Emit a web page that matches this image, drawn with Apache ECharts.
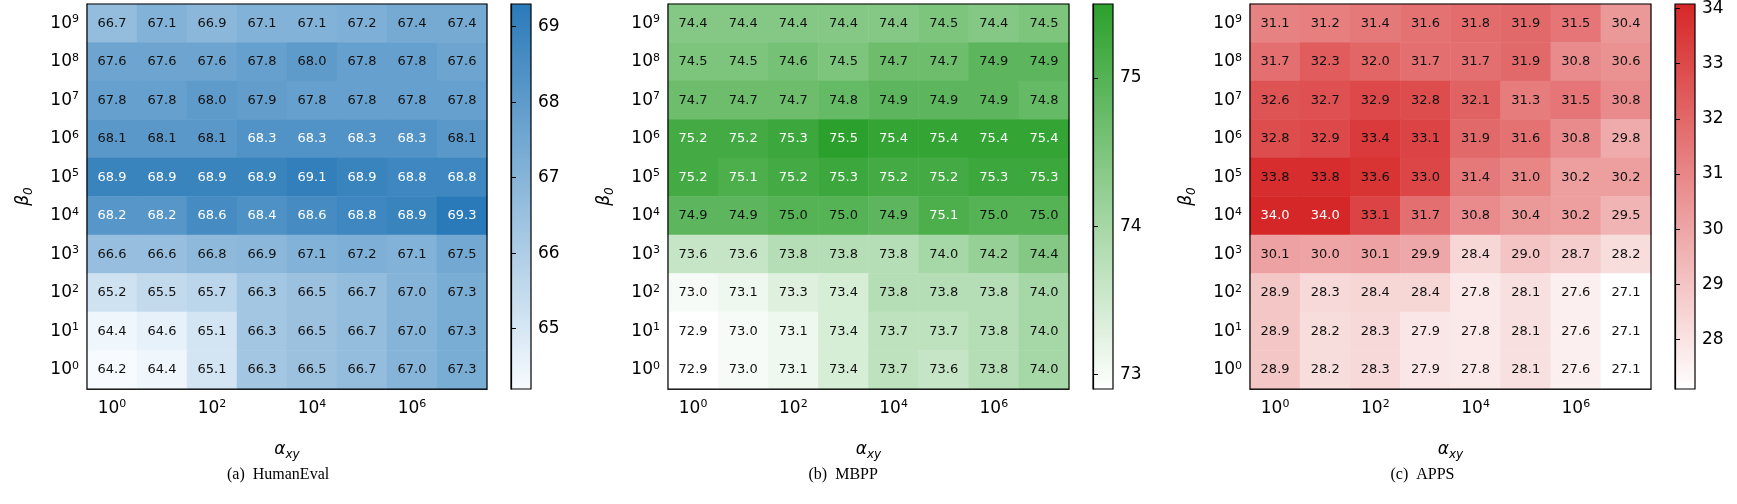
<!DOCTYPE html>
<html>
<head>
<meta charset="utf-8">
<script src="https://cdn.jsdelivr.net/npm/echarts@6/dist/echarts.min.js"></script>
<style>
  body { margin: 0; background: #fff; }
  #main { width: 1737px; height: 504px; }
</style>
</head>
<body>
<div id="main"></div>
<script>
// 横轴 alpha_xy，纵轴 beta_0 (从 10^0 到 10^9)
var xExp = [0, 1, 2, 3, 4, 5, 6, 7];
var yExp = [0, 1, 2, 3, 4, 5, 6, 7, 8, 9];

// 每行从上 (10^9) 到下 (10^0)
var humanEval = [
  [66.7, 67.1, 66.9, 67.1, 67.1, 67.2, 67.4, 67.4],
  [67.6, 67.6, 67.6, 67.8, 68.0, 67.8, 67.8, 67.6],
  [67.8, 67.8, 68.0, 67.9, 67.8, 67.8, 67.8, 67.8],
  [68.1, 68.1, 68.1, 68.3, 68.3, 68.3, 68.3, 68.1],
  [68.9, 68.9, 68.9, 68.9, 69.1, 68.9, 68.8, 68.8],
  [68.2, 68.2, 68.6, 68.4, 68.6, 68.8, 68.9, 69.3],
  [66.6, 66.6, 66.8, 66.9, 67.1, 67.2, 67.1, 67.5],
  [65.2, 65.5, 65.7, 66.3, 66.5, 66.7, 67.0, 67.3],
  [64.4, 64.6, 65.1, 66.3, 66.5, 66.7, 67.0, 67.3],
  [64.2, 64.4, 65.1, 66.3, 66.5, 66.7, 67.0, 67.3]
];
var mbpp = [
  [74.4, 74.4, 74.4, 74.4, 74.4, 74.5, 74.4, 74.5],
  [74.5, 74.5, 74.6, 74.5, 74.7, 74.7, 74.9, 74.9],
  [74.7, 74.7, 74.7, 74.8, 74.9, 74.9, 74.9, 74.8],
  [75.2, 75.2, 75.3, 75.5, 75.4, 75.4, 75.4, 75.4],
  [75.2, 75.1, 75.2, 75.3, 75.2, 75.2, 75.3, 75.3],
  [74.9, 74.9, 75.0, 75.0, 74.9, 75.1, 75.0, 75.0],
  [73.6, 73.6, 73.8, 73.8, 73.8, 74.0, 74.2, 74.4],
  [73.0, 73.1, 73.3, 73.4, 73.8, 73.8, 73.8, 74.0],
  [72.9, 73.0, 73.1, 73.4, 73.7, 73.7, 73.8, 74.0],
  [72.9, 73.0, 73.1, 73.4, 73.7, 73.6, 73.8, 74.0]
];
var apps = [
  [31.1, 31.2, 31.4, 31.6, 31.8, 31.9, 31.5, 30.4],
  [31.7, 32.3, 32.0, 31.7, 31.7, 31.9, 30.8, 30.6],
  [32.6, 32.7, 32.9, 32.8, 32.1, 31.3, 31.5, 30.8],
  [32.8, 32.9, 33.4, 33.1, 31.9, 31.6, 30.8, 29.8],
  [33.8, 33.8, 33.6, 33.0, 31.4, 31.0, 30.2, 30.2],
  [34.0, 34.0, 33.1, 31.7, 30.8, 30.4, 30.2, 29.5],
  [30.1, 30.0, 30.1, 29.9, 28.4, 29.0, 28.7, 28.2],
  [28.9, 28.3, 28.4, 28.4, 27.8, 28.1, 27.6, 27.1],
  [28.9, 28.2, 28.3, 27.9, 27.8, 28.1, 27.6, 27.1],
  [28.9, 28.2, 28.3, 27.9, 27.8, 28.1, 27.6, 27.1]
];
var blueTicks = [65, 66, 67, 68, 69];
var greenTicks = [73, 74, 75];
var redTicks = [28, 29, 30, 31, 32, 33, 34];
var titles = ['(a)  HumanEval', '(b)  MBPP', '(c)  APPS'];

var panels = [
  { data: humanEval, ticks: blueTicks, colors: ['#f7fbff', '#2a7ab9'], white: 68.15, left: 87, right: 487, cb: 511, cbw: 20 },
  { data: mbpp, ticks: greenTicks, colors: ['#ffffff', '#2ca02c'], white: 75.05, left: 668, right: 1069, cb: 1093, cbw: 20 },
  { data: apps, ticks: redTicks, colors: ['#ffffff', '#d62728'], white: 33.95, left: 1250, right: 1651, cb: 1675, cbw: 20 }
];
var gTop = 4, gBottom = 389;

function expLabel(v) { return '10{s|' + v + '}'; }
var rich = { s: { fontSize: 11, verticalAlign: 'top', padding: [0, 0, 8, 0], fontFamily: 'DejaVu Sans', color: '#000' } };

var chart = echarts.init(document.getElementById('main'));
var grid = [], xAxis = [], yAxis = [], series = [], visualMap = [], graphic = [];

panels.forEach(function (p, k) {
  var flat = [], mn = Infinity, mx = -Infinity;
  p.data.forEach(function (row, r) {
    row.forEach(function (v, c) {
      var yi = yExp.length - 1 - r;
      flat.push({ value: [c, yi, v], label: { color: v >= p.white ? '#fff' : '#111' } });
      mn = Math.min(mn, v); mx = Math.max(mx, v);
    });
  });
  var h = gBottom - gTop;
  grid.push({ left: p.left, width: p.right - p.left, top: gTop, height: h });
  grid.push({ left: p.cb, width: p.cbw, top: gTop, height: h });
  xAxis.push({
    type: 'category', gridIndex: 2 * k, data: xExp,
    axisLine: { lineStyle: { color: '#000', width: 1.2 } },
    axisTick: { alignWithLabel: true, length: 5, lineStyle: { color: '#000' } },
    axisLabel: { formatter: expLabel, rich: rich, fontSize: 17, color: '#000', margin: 10, fontFamily: 'DejaVu Sans' },
    name: 'α{s|xy}', nameLocation: 'middle', nameGap: 50,
    nameTextStyle: { fontSize: 17, fontStyle: 'italic', fontFamily: 'DejaVu Sans', color: '#000',
      rich: { s: { fontSize: 12, fontStyle: 'italic', verticalAlign: 'bottom', padding: [10, 0, 0, 0], color: '#000' } } }
  });
  yAxis.push({
    type: 'category', gridIndex: 2 * k, data: yExp,
    axisLine: { lineStyle: { color: '#000', width: 1.2 } },
    axisTick: { alignWithLabel: true, length: 5, lineStyle: { color: '#000' } },
    axisLabel: { formatter: expLabel, rich: rich, fontSize: 17, color: '#000', margin: 8, fontFamily: 'DejaVu Sans' },
    name: 'β{s|0}', nameLocation: 'middle', nameGap: 52, nameRotate: 90,
    nameTextStyle: { fontSize: 17, fontStyle: 'italic', fontFamily: 'DejaVu Sans', color: '#000',
      rich: { s: { fontSize: 12, verticalAlign: 'bottom', padding: [10, 0, 0, 0], color: '#000' } } }
  });
  // 色条
  xAxis.push({ type: 'value', gridIndex: 2 * k + 1, show: false, min: 0, max: 1 });
  yAxis.push({
    type: 'value', gridIndex: 2 * k + 1, position: 'right', min: mn, max: mx,
    splitLine: { show: false },
    axisLine: { show: true, lineStyle: { color: '#000', width: 1.2 } },
    axisTick: { show: true, length: 5, customValues: p.ticks, lineStyle: { color: '#000' } },
    axisLabel: { customValues: p.ticks, fontSize: 17, color: '#000', margin: 7, fontFamily: 'DejaVu Sans' }
  });
  graphic.push({
    type: 'rect', z: -1,
    shape: { x: p.cb, y: gTop, width: p.cbw, height: h },
    style: {
      fill: new echarts.graphic.LinearGradient(0, 1, 0, 0, [{ offset: 0, color: p.colors[0] }, { offset: 1, color: p.colors[1] }]),
      stroke: '#000', lineWidth: 1.2
    }
  });
  graphic.push({
    type: 'rect', z: 10, silent: true,
    shape: { x: p.left, y: gTop, width: p.right - p.left, height: h },
    style: { fill: 'none', stroke: '#000', lineWidth: 1.2 }
  });
  graphic.push({
    type: 'text', left: (p.left + p.right) / 2 - 60, top: 467,
    style: { text: titles[k], fontSize: 16, fontFamily: 'Liberation Serif', fill: '#000' }
  });
  visualMap.push({
    type: 'continuous', show: false, seriesIndex: k, min: mn, max: mx, dimension: 2,
    inRange: { color: p.colors }
  });
  series.push({
    type: 'heatmap', xAxisIndex: 2 * k, yAxisIndex: 2 * k, data: flat,
    label: { show: true, fontSize: 13, fontFamily: 'DejaVu Sans',
      formatter: function (d) { return d.value[2].toFixed(1); } }
  });
});

var option = {
  animation: false,
  grid: grid, xAxis: xAxis, yAxis: yAxis, series: series,
  visualMap: visualMap, graphic: graphic
};
chart.setOption(option);
window.onresize = chart.resize;
</script>
</body>
</html>
